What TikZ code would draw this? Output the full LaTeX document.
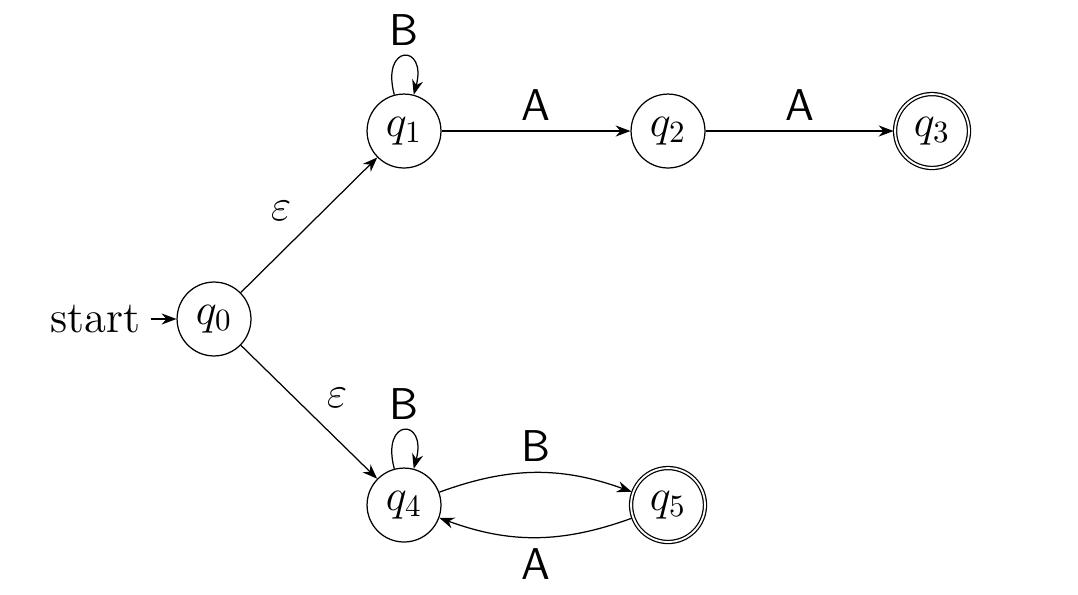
\documentclass[tikz,border=0pt]{standalone}
\usetikzlibrary{automata,arrows.meta}
\begin{document}
\begin{tikzpicture}[x=1cm,y=1cm,>=Stealth,
  every state/.style={draw,circle,minimum size=0.84cm,inner sep=0pt,font=\Large},
  lab/.style={font=\sffamily\Large},
  smallloop/.style={looseness=7,out=105,in=75}]
\useasboundingbox (0,0) rectangle (12.25,6.75);
\node[state] (q0) at (2.432,3.125) {$q_0$};
\node[state] (q1) at (4.591,5.261) {$q_1$};
\node[state] (q2) at (7.591,5.261) {$q_2$};
\node[state,accepting] (q3) at (10.591,5.261) {$q_3$};
\node[state] (q4) at (4.591,1.011) {$q_4$};
\node[state,accepting] (q5) at (7.591,1.011) {$q_5$};
\node[font=\Large] (st) at (1.08,3.125) {start};
\draw[->] (st) -- (q0);
\draw[->] (q0) -- node[pos=0.45,above left,font=\Large]{$\varepsilon$} (q1);
\draw[->] (q0) -- node[pos=0.55,above right,font=\Large]{$\varepsilon$} (q4);
\draw[->] (q1) -- node[above,lab]{A} (q2);
\draw[->] (q2) -- node[above,lab]{A} (q3);
\draw[->] (q1) to[smallloop] node[above,lab]{B} (q1);
\draw[->] (q4) to[smallloop] node[above,lab]{B} (q4);
\draw[->] (q4) to[bend left=20] node[above,lab]{B} (q5);
\draw[->] (q5) to[bend left=20] node[below,lab]{A} (q4);
\end{tikzpicture}
\end{document}
